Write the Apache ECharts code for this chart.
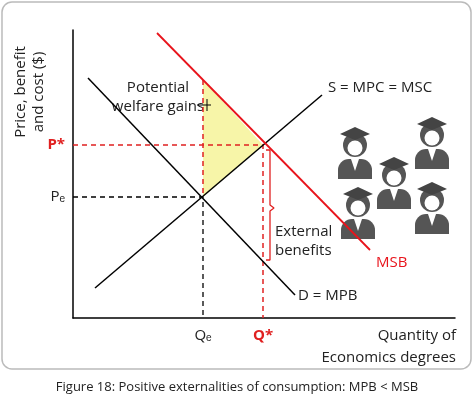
<!DOCTYPE html><html><head><meta charset="utf-8">
<script src="https://cdn.jsdelivr.net/npm/echarts@6/dist/echarts.min.js"></script>
<style>html,body{margin:0;padding:0;background:#fff}#c{width:474px;height:403px}</style></head><body><div id="c"></div>
<script>
// data units: x 0..382 (quantity), y 0..288 (price)
const mpb = [[15,240],[222,23]];
const smpc = [[22,30],[249,223]];
const msb = [[84,285],[297,68]];
const eq = [130,121];
const opt = [190,173];
const triTop = [130,238];
const bracket = [[193,168],[197,168],[197,113],[201,110],[197,107],[197,58],[193,58]];
const F = '"Open Sans", sans-serif';
const chart = echarts.init(document.getElementById('c'));
const ln = (d,c,w,t)=>({type:'line',data:d,symbol:'none',silent:true,lineStyle:{color:c,width:w,type:t||'solid'},z:t?2:3});
chart.setOption({
  animation:false,
  grid:{left:73,right:19,top:30,bottom:85},
  xAxis:{type:'value',min:0,max:382,axisLine:{show:true,lineStyle:{color:'#000',width:1.5}},axisTick:{show:false},axisLabel:{show:false},splitLine:{show:false}},
  yAxis:{type:'value',min:0,max:288,axisLine:{show:true,lineStyle:{color:'#000',width:1.5}},axisTick:{show:false},axisLabel:{show:false},splitLine:{show:false}},
  series:[
    {type:'custom',silent:true,z:1,renderItem:(p,api)=>({type:'polygon',shape:{points:[eq,triTop,opt].map(v=>api.coord(v))},style:{fill:'#f7f5a8'}}),data:[0]},
    ln([[0,eq[1]],eq,[eq[0],0]],'#000',1.3,[5,4]),
    ln([[0,opt[1]],opt,[opt[0],0]],'#e02020',1.5,[5,4]),
    ln([triTop,eq],'#e02020',1.5,[5,4]),
    ln(mpb,'#000',1.5), ln(smpc,'#000',1.5), ln(msb,'#e8141c',1.8),
    ln(bracket,'#e02020',1.3),
    ln([[124,213],[138,213]],'#000',1),ln([[134,219],[134,207]],'#000',1)
  ]
});
const P=v=>chart.convertToPixel({gridIndex:0},v);
const t=(x,y,s,o)=>({type:'text',x,y,style:Object.assign({text:s,font:'15px '+F,fill:'#222'},o||{})});
const pe=P([0,eq[1]]), ps=P([0,opt[1]]), qe=P([eq[0],0]), qs=P([opt[0],0]);
const figs=[];
[[355,145],[432,135],[394,175],[358,205],[432,200]].forEach(([x,y])=>{
  figs.push({type:'circle',shape:{cx:x,cy:y,r:12},style:{fill:'#555'}});
  figs.push({type:'polygon',shape:{points:[[x-15,y-11],[x,y-18],[x+15,y-11],[x,y-5]]},style:{fill:'#444'}});
  figs.push({type:'circle',shape:{cx:x,cy:y+3,r:7.5},style:{fill:'#fff'}});
  figs.push({type:'rect',shape:{x:x-17,y:y+14,width:34,height:20,r:[11,11,0,0]},style:{fill:'#555'}});
  figs.push({type:'polygon',shape:{points:[[x-4,y+14],[x+4,y+14],[x,y+26]]},style:{fill:'#fff'}});
});
chart.setOption({graphic:[
  {type:'rect',shape:{x:2,y:2,width:469,height:367,r:10},style:{fill:'none',stroke:'#bbb',lineWidth:1.5}},
  ...figs,
  {type:'text',x:30,y:92,rotation:Math.PI/2,style:{text:'Price, benefit\nand cost ($)',font:'15px '+F,fill:'#222',lineHeight:18,align:'center',verticalAlign:'middle'}},
  t(pe[0]-8,pe[1],'Pₑ',{align:'right',verticalAlign:'middle'}),
  t(ps[0]-8,ps[1],'P*',{align:'right',verticalAlign:'middle',fill:'#e02020',font:'bold 15px '+F}),
  t(qe[0],qe[1]+10,'Qₑ',{align:'center'}),
  t(qs[0],qs[1]+10,'Q*',{align:'center',fill:'#e02020',font:'bold 15px '+F}),
  t(158,78,'Potential\nwelfare gains',{align:'center',lineHeight:19}),
  t(328,80,'S = MPC = MSC'),
  t(298,288,'D = MPB'),
  t(376,255,'MSB',{fill:'#e8141c'}),
  t(275,222,'External\nbenefits',{lineHeight:19}),
  t(456,325,'Quantity of\nEconomics degrees',{align:'right',lineHeight:22}),
  t(237,387,'Figure 18: Positive externalities of consumption: MPB < MSB',{align:'center',verticalAlign:'middle',font:'13px '+F})
]});
</script></body></html>
